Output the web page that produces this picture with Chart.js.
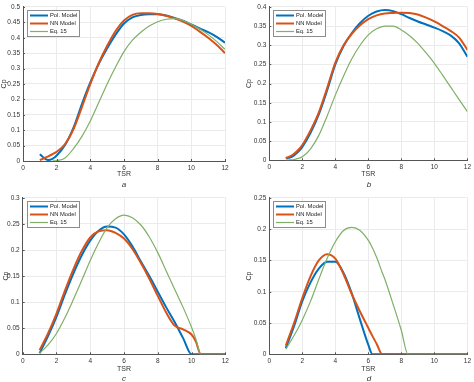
<!DOCTYPE html>
<html><head><meta charset="utf-8">
<script src="https://cdn.jsdelivr.net/npm/chart.js@4/dist/chart.umd.min.js"></script>
<style>
body{margin:0;background:#fff;width:474px;height:382px;position:relative;overflow:hidden;font-family:"Liberation Sans",Arial,sans-serif}
canvas{position:absolute}
.sub{position:absolute;font-style:italic;font-size:8px;color:#333;transform:translate(-50%,-50%)}
</style></head><body>
<canvas id="ca" width="237" height="191" style="left:0;top:0"></canvas>
<canvas id="cb" width="237" height="191" style="left:237px;top:0"></canvas>
<canvas id="cc" width="237" height="191" style="left:0;top:191px"></canvas>
<canvas id="cd" width="237" height="191" style="left:237px;top:191px"></canvas>
<div class="sub" style="left:124px;top:184px">a</div>
<div class="sub" style="left:369px;top:184px">b</div>
<div class="sub" style="left:124px;top:378px">c</div>
<div class="sub" style="left:369px;top:378px">d</div>
<script>
const seriesNames = ['Pol. Model', 'NN Model', 'Eq. 15'];
const xTitle = 'TSR';
const yTitle = 'Cp';
const panelLetters = ['a', 'b', 'c', 'd'];

const tsrA = [1,1.25,1.5,1.75,2,2.5,3,3.5,4,4.5,5,5.5,6,6.5,7,7.5,8,8.5,9,9.5,10,10.5,11,11.5,12];
const polA = [0.022,0.01,0.003,0.007,0.018,0.052,0.108,0.185,0.255,0.315,0.366,0.41,0.446,0.466,0.474,0.476,0.476,0.472,0.464,0.455,0.443,0.43,0.418,0.403,0.384];
const nnA  = [0.003,0.009,0.015,0.022,0.03,0.055,0.103,0.175,0.25,0.318,0.374,0.422,0.456,0.474,0.479,0.479,0.477,0.471,0.463,0.452,0.438,0.42,0.4,0.377,0.35];
const eqA  = [null,null,null,0,0.001,0.01,0.04,0.08,0.13,0.19,0.25,0.305,0.355,0.392,0.418,0.438,0.452,0.46,0.462,0.456,0.444,0.428,0.41,0.388,0.362];

const tsrB = [1,1.25,1.5,1.75,2,2.5,3,3.5,4,4.5,5,5.5,6,6.5,7,7.5,8,8.5,9,9.5,10,10.5,11,11.5,12];
const polB = [0.005,0.007,0.013,0.022,0.035,0.072,0.12,0.182,0.25,0.298,0.332,0.358,0.377,0.388,0.392,0.389,0.381,0.371,0.362,0.354,0.346,0.337,0.325,0.305,0.27];
const nnB  = [0.006,0.01,0.017,0.027,0.04,0.078,0.125,0.188,0.255,0.3,0.33,0.352,0.368,0.378,0.383,0.384,0.385,0.384,0.38,0.372,0.362,0.35,0.337,0.32,0.288];
const eqB  = [0,0.001,0.002,0.005,0.009,0.03,0.065,0.115,0.17,0.22,0.265,0.3,0.327,0.343,0.35,0.35,0.34,0.325,0.305,0.28,0.253,0.222,0.19,0.158,0.127];

const tsrC = [1,1.5,2,2.5,3,3.5,4,4.5,5,5.5,6,6.5,7,7.5,8,8.5,9,9.5,10,10.25,10.55,11,11.5,12];
const polC = [0.002,0.035,0.072,0.115,0.155,0.19,0.218,0.237,0.245,0.243,0.23,0.207,0.178,0.15,0.12,0.09,0.062,0.031,0,0,0,0,0,0];
const nnC  = [0.008,0.04,0.078,0.122,0.163,0.198,0.224,0.236,0.238,0.233,0.222,0.202,0.175,0.145,0.112,0.08,0.055,0.048,0.038,0.025,0,0,0,0];
const eqC  = [0.002,0.018,0.04,0.07,0.105,0.142,0.18,0.214,0.243,0.26,0.267,0.262,0.248,0.225,0.195,0.16,0.125,0.09,0.052,0.03,0,0,0,0];

const tsrD = [1,1.5,2,2.5,3,3.5,4,4.5,5,5.5,6,6.25,6.5,6.85,7,7.5,8,8.4,9,10,11,12];
const polD = [0.01,0.045,0.085,0.115,0.137,0.148,0.148,0.13,0.097,0.055,0.015,0,0,0,0,0,0,0,0,0,0,0];
const nnD  = [0.014,0.05,0.09,0.125,0.15,0.16,0.153,0.128,0.096,0.068,0.042,0.029,0.017,0,0,0,0,0,0,0,0,0];
const eqD  = [0.008,0.03,0.055,0.085,0.12,0.153,0.18,0.198,0.203,0.198,0.182,0.17,0.155,0.13,0.12,0.08,0.038,0,0,0,0,0];

const xTicksMax = 12, xStep = 2;
const yMaxA = 0.5, yMaxB = 0.4, yMaxC = 0.3, yMaxD = 0.25, yStep = 0.05;

const colors = ['#0072BD', '#D95319', '#7FAF68'];
const widths = [2, 2, 1.2];
const FONT = '"Liberation Sans", Arial, sans-serif';

const innerTicks = {
  id: 'innerTicks',
  afterDraw(chart) {
    const ctx = chart.ctx, a = chart.chartArea;
    const xs = chart.scales.x, ys = chart.scales.y;
    ctx.save();
    ctx.strokeStyle = '#555';
    ctx.lineWidth = 1;
    ctx.beginPath();
    xs.ticks.forEach(t => {
      const px = Math.round(xs.getPixelForValue(t.value)) + 0.5;
      ctx.moveTo(px, a.bottom); ctx.lineTo(px, a.bottom - 2);
    });
    ys.ticks.forEach(t => {
      const py = Math.round(ys.getPixelForValue(t.value)) + 0.5;
      ctx.moveTo(a.left, py); ctx.lineTo(a.left + 2, py);
    });
    ctx.stroke();
    ctx.restore();
  }
};

const legendPlugin = {
  id: 'boxLegend',
  afterDatasetsDraw(chart) {
    const ctx = chart.ctx, a = chart.chartArea;
    const x0 = Math.round(a.left + 4), y0 = Math.round(a.top + 3), w = 52, h = 26;
    ctx.save();
    ctx.fillStyle = '#fff';
    ctx.fillRect(x0, y0, w, h);
    ctx.strokeStyle = '#8c8c8c';
    ctx.lineWidth = 1;
    ctx.strokeRect(x0 + 0.5, y0 + 0.5, w, h);
    ctx.font = '5.8px ' + FONT;
    ctx.textBaseline = 'middle';
    ctx.fillStyle = '#222';
    seriesNames.forEach((n, i) => {
      const yy = y0 + 5.5 + i * 8;
      ctx.strokeStyle = colors[i];
      ctx.lineWidth = widths[i];
      ctx.beginPath(); ctx.moveTo(x0 + 3, yy); ctx.lineTo(x0 + 21, yy); ctx.stroke();
      ctx.fillText(n, x0 + 23, yy + 0.3);
    });
    ctx.restore();
  }
};

function pts(xs, ys) { return xs.map((x, i) => ({x: x, y: ys[i]})); }

function makeChart(id, xs, series, yMax, geo) {
  const datasets = series.map((ys, i) => ({
    label: seriesNames[i],
    data: pts(xs, ys),
    borderColor: colors[i],
    borderWidth: widths[i],
    pointRadius: 0,
    fill: false,
    cubicInterpolationMode: 'monotone',
    order: 3 - i
  }));
  return new Chart(document.getElementById(id), {
    type: 'line',
    data: {datasets},
    plugins: [innerTicks, legendPlugin],
    options: {
      responsive: false,
      devicePixelRatio: 1,
      animation: false,
      events: [],
      layout: {padding: {top: geo.top, right: geo.right, left: 0, bottom: 0}},
      plugins: {legend: {display: false}, tooltip: {enabled: false}},
      scales: {
        x: {
          type: 'linear', min: 0, max: xTicksMax,
          afterFit: s => { s.height = geo.xh; },
          ticks: {stepSize: xStep, padding: 3, color: '#333', font: {size: 6.5, family: FONT}, maxRotation: 0},
          grid: {color: '#ebebeb', drawTicks: false},
          border: {color: '#555', width: 1},
          title: {display: true, text: xTitle, color: '#333', font: {size: 7, family: FONT}, padding: {top: 0, bottom: geo.xtp}}
        },
        y: {
          min: 0, max: yMax,
          afterFit: s => { s.width = geo.yw; },
          ticks: {stepSize: yStep, padding: 3, color: '#333', font: {size: 6.5, family: FONT},
                  callback: v => String(+v.toFixed(2))},
          grid: {color: '#ebebeb', drawTicks: false},
          border: {color: '#555', width: 1},
          title: {display: true, text: yTitle, color: '#333', font: {size: 7, family: FONT}, padding: {top: geo.ytp, bottom: 0}}
        }
      }
    }
  });
}

makeChart('ca', tsrA, [polA, nnA, eqA], yMaxA, {top: 3, right: 12, yw: 23, xh: 30, xtp: 12.3, ytp: 0});
makeChart('cb', tsrB, [polB, nnB, eqB], yMaxB, {top: 2, right: 3.7, yw: 32.3, xh: 30.7, xtp: 12.3, ytp: 8.3});
makeChart('cc', tsrC, [polC, nnC, eqC], yMaxC, {top: 5.7, right: 11.7, yw: 22.7, xh: 27.7, xtp: 8.5, ytp: 1.5});
makeChart('cd', tsrD, [polD, nnD, eqD], yMaxD, {top: 5.3, right: 3.7, yw: 32.3, xh: 27.7, xtp: 8.5, ytp: 7.8});
</script>
</body></html>
